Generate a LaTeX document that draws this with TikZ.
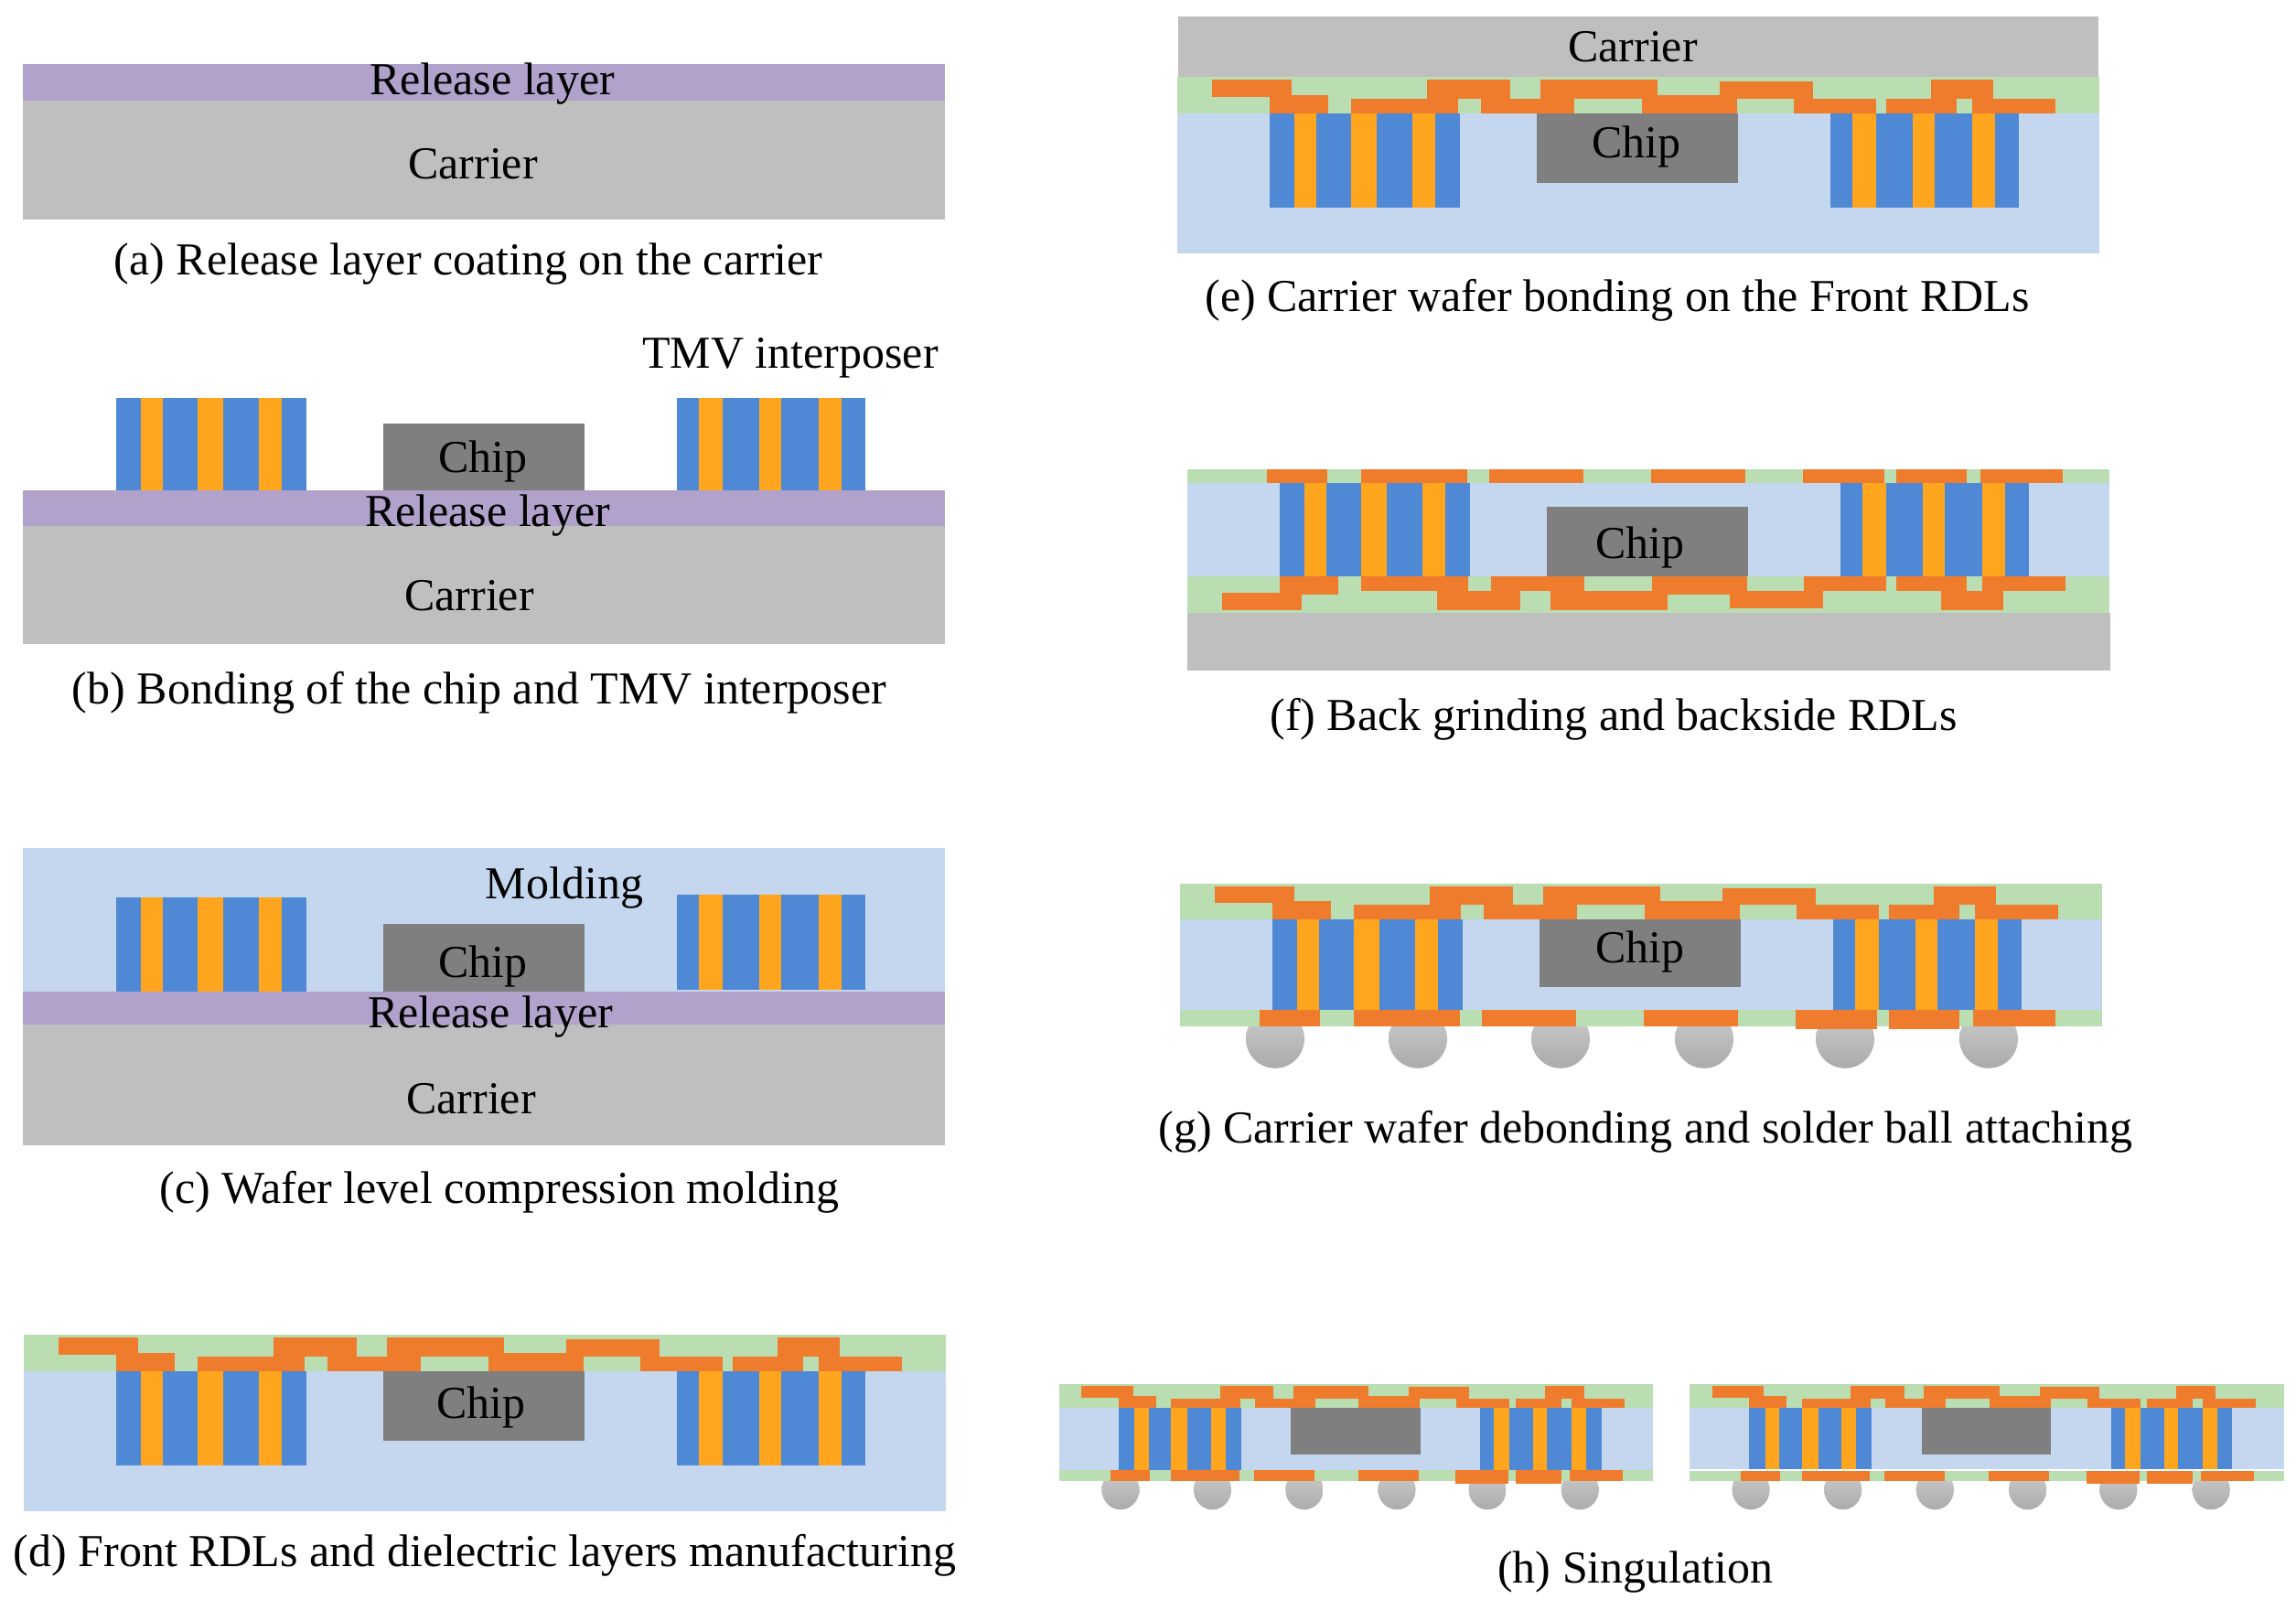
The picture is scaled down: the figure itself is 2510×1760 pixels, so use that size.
\documentclass[tikz,border=0pt]{standalone}
\usepackage{fontspec}
\setmainfont{Liberation Serif}
\definecolor{cgray}{HTML}{BFBFBF}
\definecolor{cpurple}{HTML}{B0A2CB}
\definecolor{cblue}{HTML}{C5D7EF}
\definecolor{cgreen}{HTML}{BADDB2}
\definecolor{crdl}{HTML}{EF7C2C}
\definecolor{camber}{HTML}{FFA51E}
\definecolor{cpillar}{HTML}{4F88D4}
\definecolor{cchip}{HTML}{7F7F7F}
\tikzset{
  carrierfill/.style={fill=cgray},
  releasefill/.style={fill=cpurple},
  moldfill/.style={fill=cblue},
  dielfill/.style={fill=cgreen},
  rdlfill/.style={fill=crdl},
  amberfill/.style={fill=camber},
  pillarfill/.style={fill=cpillar},
  chipfill/.style={fill=cchip},
  ballfill/.style={top color=cgray!80!white,bottom color=black!33,draw=none},
  labtext/.style={inner sep=0pt,text=black,yshift=-3pt,font=\fontsize{50}{58}\selectfont},
  captext/.style={inner sep=0pt,text=black,yshift=-3pt,font=\fontsize{50}{58}\selectfont},
}
% TMV interposers: #1 top y, #2 bottom y
\newcommand\pilL[2]{%
  \fill[pillarfill] (101,#1) rectangle (309,#2);
  \fill[amberfill] (128,#1) rectangle (152,#2);
  \fill[amberfill] (190,#1) rectangle (218,#2);
  \fill[amberfill] (257,#1) rectangle (282,#2);}
\newcommand\pilR[2]{%
  \fill[pillarfill] (714,#1) rectangle (920,#2);
  \fill[amberfill] (738,#1) rectangle (764,#2);
  \fill[amberfill] (804,#1) rectangle (828,#2);
  \fill[amberfill] (869,#1) rectangle (894,#2);}
% molded package with front RDLs: #1 bottom of the molding
\newcommand\corepanel[1]{%
  \fill[dielfill] (0,0) rectangle (1008,40);
  \fill[moldfill] (0,40) rectangle (1008,#1);
  \pilL{40}{143}\pilR{40}{143}
  \fill[chipfill] (393,40) rectangle (613,116);
  \foreach \xa/\ya/\xb/\yb in {38/3/125/22,101/20/165/40,190/24/307/40,273/3/364/24,332/24/434/40,397/3/525/24,508/20/612/40,593/5/695/24,674/24/764/40,775/24/852/40,824/3/892/24,869/24/960/40}
    {\fill[rdlfill] (\xa,\ya) rectangle (\xb,\yb);}}
% back RDLs: #1 outer edge of the dielectric, #2 outer edge of the two longer pads
\newcommand\backrdl[2]{%
  \fill[dielfill] (0,142) rectangle (1008,#1);
  \foreach \xa/\xb in {87/153,190/306,330/433,507/610,867/957}
    {\fill[rdlfill] (\xa,142) rectangle (\xb,#1);}
  \fill[rdlfill] (673,142) rectangle (762,#2);
  \fill[rdlfill] (775,142) rectangle (852,#2);}
\newcommand\balls{%
  \foreach \xc in {104,260,416,573,727,884}
    {\shade[ballfill] (\xc,175) ellipse (32 and 33);}}
\begin{document}
\begin{tikzpicture}[x=1pt,y=-1pt]
\fill[white] (0,0) rectangle (2510,1760);
\useasboundingbox (0,0) rectangle (2510,1760);
% (a)
\fill[carrierfill] (25,110) rectangle (1033,240);
\fill[releasefill] (25,70) rectangle (1033,110);
\node[labtext] (aRel) at (538,89) {Release layer};
\node[labtext] (aCar) at (517,176) {Carrier};
\node[captext] (aCap) at (512,286) {(a) Release layer coating on the carrier};
% (b)
\fill[carrierfill] (25,575) rectangle (1033,704);
\fill[releasefill] (25,536) rectangle (1033,575);
\begin{scope}[shift={(26,0)}]
  \pilL{435}{536}\pilR{435}{536}
\end{scope}
\fill[chipfill] (419,463) rectangle (639,536);
\node[labtext] (bTmv) at (864,388) {TMV interposer};
\node[labtext] (bChip) at (528,501) {Chip};
\node[labtext] (bRel) at (533,561) {Release layer};
\node[labtext] (bCar) at (513,648) {Carrier};
\node[captext] (bCap) at (524,754) {(b) Bonding of the chip and TMV interposer};
% (c)
\fill[moldfill] (25,927) rectangle (1033,1084);
\fill[carrierfill] (25,1120) rectangle (1033,1252);
\fill[releasefill] (25,1084) rectangle (1033,1120);
\begin{scope}[shift={(26,0)}]
  \pilL{981}{1084}\pilR{978}{1082}
\end{scope}
\fill[chipfill] (419,1010) rectangle (639,1084);
\node[labtext] (cMol) at (617,968) {Molding};
\node[labtext] (cChip) at (528,1053) {Chip};
\node[labtext] (cRel) at (536,1109) {Release layer};
\node[labtext] (cCar) at (515,1198) {Carrier};
\node[captext] (cCap) at (546,1300) {(c) Wafer level compression molding};
% (d)
\begin{scope}[shift={(26,1459)}]
  \corepanel{193}
\end{scope}
\node[labtext] (dChip) at (526,1535) {Chip};
\node[captext] (dCap) at (530,1697) {(d) Front RDLs and dielectric layers manufacturing};
% (e)
\fill[carrierfill] (1288,18) rectangle (2294,84);
\begin{scope}[shift={(1287,84)}]
  \corepanel{193}
\end{scope}
\node[labtext] (eCar) at (1785,48) {Carrier};
\node[labtext] (eChip) at (1789,157) {Chip};
\node[captext] (eCap) at (1768,325) {(e) Carrier wafer bonding on the Front RDLs};
% (f)
\fill[carrierfill] (1298,670) rectangle (2307,733);
\begin{scope}[shift={(1298,670)},yscale=-1]
  \corepanel{142}
  \backrdl{157}{157}
\end{scope}
\node[labtext] (fChip) at (1793,595) {Chip};
\node[captext] (fCap) at (1764,783) {(f) Back grinding and backside RDLs};
% (g)
\begin{scope}[shift={(1290,966)},yscale=.97]
  \balls
  \corepanel{142}
  \backrdl{161}{164}
\end{scope}
\node[labtext] (gChip) at (1793,1037) {Chip};
\node[captext] (gCap) at (1799,1234) {(g) Carrier wafer debonding and solder ball attaching};
% (h)
\begin{scope}[shift={(1158,1513)},xscale=.644,yscale=.66]
  \balls
  \corepanel{142}
  \backrdl{161}{165}
\end{scope}
\begin{scope}[shift={(1847,1513)},xscale=.645,yscale=.66]
  \balls
  \corepanel{142}
  \backrdl{161}{165}
  \fill[white] (0,141) rectangle (1008,144);
\end{scope}
\node[captext] (hCap) at (1788,1716) {(h) Singulation};
\end{tikzpicture}
\end{document}
